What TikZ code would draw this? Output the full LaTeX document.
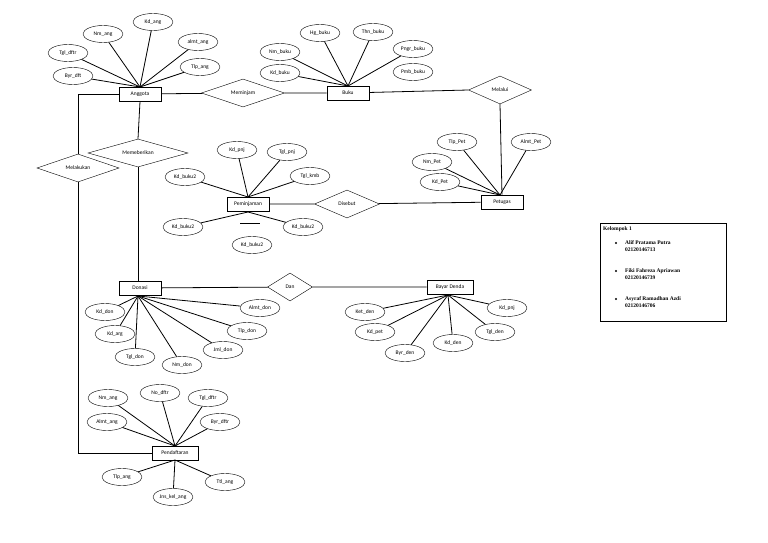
\documentclass[tikz,border=0pt]{standalone}
\usepackage{fontspec}
\setmainfont{Carlito}
\newfontfamily\legfont{Liberation Serif}
\usetikzlibrary{shapes.geometric}
\begin{document}
\begin{tikzpicture}[x=1pt,y=-1pt,
  attr/.style={draw,ellipse,inner sep=0pt,minimum width=40,minimum height=17,font=\fontsize{5.5}{6}\selectfont},
  ent/.style={draw,thick,rectangle,inner sep=1pt,minimum width=42,minimum height=14,font=\fontsize{5.5}{6}\selectfont},
  rel/.style={draw,diamond,aspect=3,inner sep=0pt,font=\fontsize{5.5}{6}\selectfont},
  ln/.style={draw,thick}]
\useasboundingbox (0,0) rectangle (768,543);
% entities
\node[ent] (ang) at (140,94) {Anggota};
\node[ent] (buku) at (348,93) {Buku};
\node[ent] (pet) at (502,202) {Petugas};
\node[ent] (pem) at (248,204) {Peminjaman};
\node[ent] (don) at (140,288) {Donasi};
\node[ent,minimum width=46] (byr) at (450,287) {Bayar Denda};
\node[ent,minimum width=46] (pend) at (175,453) {Pendaftaran};
% relations
\node[rel,minimum width=83,minimum height=28] (mem) at (243,93) {Meminjam};
\node[rel,minimum width=63,minimum height=28] (mel) at (500,90) {Melalui};
\node[rel,minimum width=100,minimum height=28] (memb) at (138,153) {Memeberikan};
\node[rel,minimum width=82,minimum height=28] (melk) at (78,168) {Melakukan};
\node[rel,minimum width=65,minimum height=28] (dis) at (347,204) {Disebut};
\node[rel,minimum width=45,minimum height=28] (dan) at (290,287) {Dan};
% relation lines
\draw[ln] (ang) -- (mem) -- (buku) -- (mel.west);
\draw[ln] (mel.south) -- (pet.north);
\draw[ln] (ang.south) -- (memb.north);
\draw[ln] (memb.south) -- (memb.south |- don.north);
\draw[ln] (ang.west) -| (melk.north);
\draw[ln] (melk.south) |- (pend.west);
\draw[ln] (pem) -- (dis) -- (pet);
\draw[ln] (don) -- (dan) -- (byr);
% Anggota attributes
\coordinate (ca) at (140,87);
\foreach \n/\t/\x/\y in {a1/Nm\_ang/103/34, a2/Kd\_ang/153/22, a3/almt\_ang/198/42, a4/Tgl\_dftr/68/53, a5/Tlp\_ang/200/67, a6/Byr\_dft/73/76}{
  \node[attr] (\n) at (\x,\y) {\t};
  \draw[ln] (\n) -- (ca);}
% Buku attributes
\coordinate (cb) at (348,86);
\foreach \n/\t/\x/\y in {b1/Hg\_buku/320/33, b2/Thn\_buku/373/32, b3/Nm\_buku/280/52, b4/Pngr\_buku/413/49, b5/Kd\_buku/280/73}{
  \node[attr] (\n) at (\x,\y) {\t};
  \draw[ln] (\n) -- (cb);}
\node[attr] (b6) at (413,72) {Pmb\_buku};
% Petugas attributes
\coordinate (cp) at (500,195);
\foreach \n/\t/\x/\y in {p1/Tlp\_Pet/457/142, p2/Almt\_Pet/531/142, p3/Nm\_Pet/432/162, p4/Kd\_Pet/440/182}{
  \node[attr] (\n) at (\x,\y) {\t};
  \draw[ln] (\n) -- (cp);}
% Peminjaman attributes
\coordinate (cm) at (248,197);
\coordinate (cm2) at (248,212);
\foreach \n/\t/\x/\y in {m1/Kd\_pnj/237/150, m2/Tgl\_pnj/287/152, m3/Kd\_buku2/185/177, m4/Tgl\_kmb/310/176}{
  \node[attr] (\n) at (\x,\y) {\t};
  \draw[ln] (\n) -- (cm);}
\foreach \n/\t/\x/\y in {m5/Kd\_buku2/183/227, m6/Kd\_buku2/303/227}{
  \node[attr] (\n) at (\x,\y) {\t};
  \draw[ln] (\n) -- (cm2);}
\node[attr] (m7) at (252,245) {Kd\_buku2};
\coordinate (s1) at (240,223); \coordinate (s2) at (260,223);
\draw[ln] (s1) -- (s2);
% Donasi attributes
\coordinate (cd) at (138,296);
\foreach \n/\t/\x/\y in {d1/Kd\_don/105/312, d2/Kd\_arg/115/334, d3/Tgl\_don/135/357, d4/Nm\_don/182/365, d5/Jml\_don/223/350, d6/Tlp\_don/247/331, d7/Almt\_don/260/308}{
  \node[attr] (\n) at (\x,\y) {\t};
  \draw[ln] (\n) -- (cd);}
% Bayar Denda attributes
\coordinate (cy) at (448,295);
\foreach \n/\t/\x/\y in {y1/Ket\_den/365/312, y2/Kd\_pnj/507/308, y3/Kd\_pet/375/332, y4/Tgl\_den/495/332, y5/Kd\_den/453/343, y6/Byr\_den/405/353}{
  \node[attr] (\n) at (\x,\y) {\t};
  \draw[ln] (\n) -- (cy);}
% Pendaftaran attributes
\coordinate (cf) at (175,446);
\coordinate (cf2) at (175,460);
\foreach \n/\t/\x/\y in {f1/Nm\_ang/108/398, f2/No\_dftr/160/393, f3/Tgl\_dftr/208/398, f4/Almt\_ang/107/422, f5/Byr\_dftr/220/422}{
  \node[attr] (\n) at (\x,\y) {\t};
  \draw[ln] (\n) -- (cf);}
\foreach \n/\t/\x/\y in {f6/Tlp\_ang/122/477, f7/Ttl\_ang/225/482, f8/Jns\_kel\_ang/173/497}{
  \node[attr] (\n) at (\x,\y) {\t};
  \draw[ln] (\n) -- (cf2);}
% legend
\node[draw,thick,minimum width=126,minimum height=98,anchor=north west] (leg) at (600,223) {};
\node[anchor=north west,inner sep=0pt,font=\legfont\fontsize{5.5}{6.5}\selectfont\bfseries] (lt) at (603,226) {Kelompok 1};
\node[anchor=north west,inner sep=0pt,align=left,font=\legfont\fontsize{5.5}{7}\selectfont\bfseries] (l1) at (625,240) {Alif Pratama Putra\\02120146713};
\node[anchor=north west,inner sep=0pt,align=left,font=\legfont\fontsize{5.5}{7}\selectfont\bfseries] (l2) at (625,268) {Fiki Fahreza Apriawan\\02120146739};
\node[anchor=north west,inner sep=0pt,align=left,font=\legfont\fontsize{5.5}{7}\selectfont\bfseries] (l3) at (625,296) {Asyraf Ramadhan Azdi\\02120146706};
\foreach \y in {243,271,299}{\fill (616,\y) circle (1.2);}
\end{tikzpicture}
\end{document}
